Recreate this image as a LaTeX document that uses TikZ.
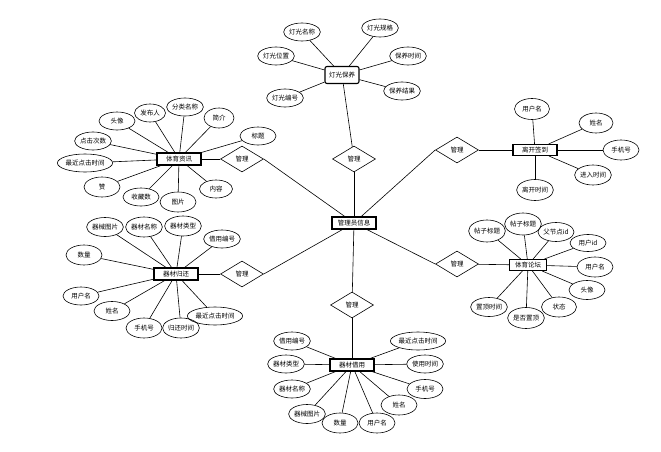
\documentclass[tikz,border=0pt]{standalone}
\usepackage{fontspec}
\newfontfamily\cjk{Noto Sans CJK SC}
\usetikzlibrary{shapes.geometric}

\begin{document}
\begin{tikzpicture}[x=1pt,y=-1pt,font=\cjk\fontsize{6.5}{7}\selectfont,
  line width=0.6pt,
  ent/.style={draw,line width=1.1pt,minimum width=44pt,minimum height=12pt,inner sep=1.5pt},
  attr/.style={draw,ellipse,line width=0.6pt,inner xsep=0pt,inner ysep=0pt,minimum width=36pt,minimum height=18pt},
  rel/.style={draw,diamond,line width=0.6pt,inner sep=0pt,minimum width=43pt,minimum height=26pt}]
  \useasboundingbox (0,0) rectangle (661,452);

  % admin and relations
  \node[ent] (adm) at (354,223) {管理员信息};
  \node[rel] (r1) at (354,159) {管理};
  \node[rel] (r2) at (242,159) {管理};
  \node[rel] (r3) at (242,274) {管理};
  \node[rel] (r4) at (352,305) {管理};
  \node[rel] (r5) at (457,150) {管理};
  \node[rel] (r6) at (457,264) {管理};
  \draw (adm) -- (r1); \draw (adm) -- (r2.east); \draw (adm) -- (r3.east);
  \draw (adm) -- (r4); \draw (adm) -- (r5.west); \draw (adm) -- (r6.west);

  % light maintenance
  \node[ent,minimum width=34pt,minimum height=17pt,rounded corners=2pt] (light) at (342,75) {灯光保养};
  \node[attr] (light1) at (302,32) {灯光名称};
  \node[attr] (light2) at (380,28) {灯光规格};
  \node[attr] (light3) at (276,56) {灯光位置};
  \node[attr] (light4) at (408,56) {保养时间};
  \node[attr] (light5) at (285,98) {灯光编号};
  \node[attr] (light6) at (402,91) {保养结果};
  \draw (light1) -- (light); \draw (light2) -- (light); \draw (light3) -- (light);
  \draw (light4) -- (light); \draw (light5) -- (light); \draw (light6) -- (light);
  \draw (light) -- (r1);

  % sports news
  \node[ent] (news) at (179,159) {体育资讯};
  \node[attr] (news1) at (117,121) {头像};
  \node[attr,minimum width=31pt] (news2) at (150,113) {发布人};
  \node[attr] (news3) at (185,107) {分类名称};
  \node[attr,minimum width=30pt,minimum height=20pt] (news4) at (219,118) {简介};
  \node[attr] (news5) at (258,136) {标题};
  \node[attr] (news6) at (93,141) {点击次数};
  \node[attr] (news7) at (85,163) {最近点击时间};
  \node[attr,minimum height=20pt] (news8) at (102,187) {赞};
  \node[attr] (news9) at (141,197) {收藏数};
  \node[attr,minimum height=20pt] (news10) at (178,202) {图片};
  \node[attr,minimum width=33pt] (news11) at (216,189) {内容};
  \draw (news1) -- (news); \draw (news2) -- (news); \draw (news3) -- (news);
  \draw (news4) -- (news); \draw (news5) -- (news); \draw (news6) -- (news);
  \draw (news7) -- (news); \draw (news8) -- (news); \draw (news9) -- (news);
  \draw (news10) -- (news); \draw (news11) -- (news);
  \draw (news) -- (r2);

  % equipment return
  \node[ent] (ret) at (176,274) {器材归还};
  \node[attr,minimum height=19pt] (ret1) at (105,227) {器械图片};
  \node[attr,minimum height=20pt] (ret2) at (144,227) {器材名称};
  \node[attr,minimum height=20pt] (ret3) at (183,226) {器材类型};
  \node[attr] (ret4) at (222,239) {借用编号};
  \node[attr,minimum height=20pt] (ret5) at (84,255) {数量};
  \node[attr] (ret6) at (81,296) {用户名};
  \node[attr,minimum height=19pt] (ret7) at (112,311) {姓名};
  \node[attr,minimum height=20pt] (ret8) at (144,328) {手机号};
  \node[attr,minimum height=20pt] (ret9) at (181,328) {归还时间};
  \node[attr] (ret10) at (215,316) {最近点击时间};
  \draw (ret1) -- (ret); \draw (ret2) -- (ret); \draw (ret3) -- (ret);
  \draw (ret4) -- (ret); \draw (ret5) -- (ret); \draw (ret6) -- (ret);
  \draw (ret7) -- (ret); \draw (ret8) -- (ret); \draw (ret9) -- (ret);
  \draw (ret10) -- (ret);
  \draw (ret) -- (r3);

  % equipment borrowing
  \node[ent] (bor) at (352,365) {器材借用};
  \node[attr] (bor1) at (292,341) {借用编号};
  \node[attr] (bor2) at (286,364) {器材类型};
  \node[attr] (bor3) at (292,389) {器材名称};
  \node[attr,minimum height=19pt] (bor4) at (307,414) {器械图片};
  \node[attr,minimum height=20pt] (bor5) at (340,423) {数量};
  \node[attr,minimum height=20pt] (bor6) at (377,423) {用户名};
  \node[attr,minimum height=20pt] (bor7) at (399,405) {姓名};
  \node[attr,minimum height=19pt] (bor8) at (425,389) {手机号};
  \node[attr] (bor9) at (425,364) {使用时间};
  \node[attr] (bor10) at (418,341) {最近点击时间};
  \draw (bor1) -- (bor); \draw (bor2) -- (bor); \draw (bor3) -- (bor);
  \draw (bor4) -- (bor); \draw (bor5) -- (bor); \draw (bor6) -- (bor);
  \draw (bor7) -- (bor); \draw (bor8) -- (bor); \draw (bor9) -- (bor);
  \draw (bor10) -- (bor);
  \draw (r4) -- (bor);

  % leave sign-in
  \node[ent,minimum height=11pt] (sign) at (535,150) {离开签到};
  \node[attr,minimum width=35pt,minimum height=21pt] (sign1) at (532,109) {用户名};
  \node[attr,minimum width=34pt,minimum height=20pt] (sign2) at (596,123) {姓名};
  \node[attr,minimum height=20pt] (sign3) at (621,150) {手机号};
  \node[attr,minimum height=20pt] (sign4) at (593,175) {进入时间};
  \node[attr,minimum height=21pt] (sign5) at (535,190) {离开时间};
  \draw (sign1) -- (sign); \draw (sign2) -- (sign); \draw (sign3) -- (sign);
  \draw (sign4) -- (sign); \draw (sign5) -- (sign);
  \draw (sign) -- (r5);

  % sports forum
  \node[ent,minimum width=37pt,minimum height=11pt] (forum) at (528,265) {体育论坛};
  \node[attr,minimum height=22pt] (forum1) at (487,231) {帖子标题};
  \node[attr,minimum height=22pt] (forum2) at (523,224) {帖子标题};
  \node[attr,minimum height=19pt] (forum3) at (556,232) {父节点id};
  \node[attr,minimum height=17pt] (forum4) at (588,243) {用户id};
  \node[attr,minimum height=20pt] (forum5) at (595,267) {用户名};
  \node[attr,minimum height=19pt] (forum6) at (587,290) {头像};
  \node[attr,minimum width=35pt,minimum height=20pt] (forum7) at (559,307) {状态};
  \node[attr,minimum height=21pt] (forum8) at (526,318) {是否置顶};
  \node[attr,minimum height=19pt] (forum9) at (489,307) {置顶时间};
  \draw (forum1) -- (forum); \draw (forum2) -- (forum); \draw (forum3) -- (forum);
  \draw (forum4) -- (forum); \draw (forum5) -- (forum); \draw (forum6) -- (forum);
  \draw (forum7) -- (forum); \draw (forum8) -- (forum); \draw (forum9) -- (forum);
  \draw (forum) -- (r6);
\end{tikzpicture}
\end{document}
